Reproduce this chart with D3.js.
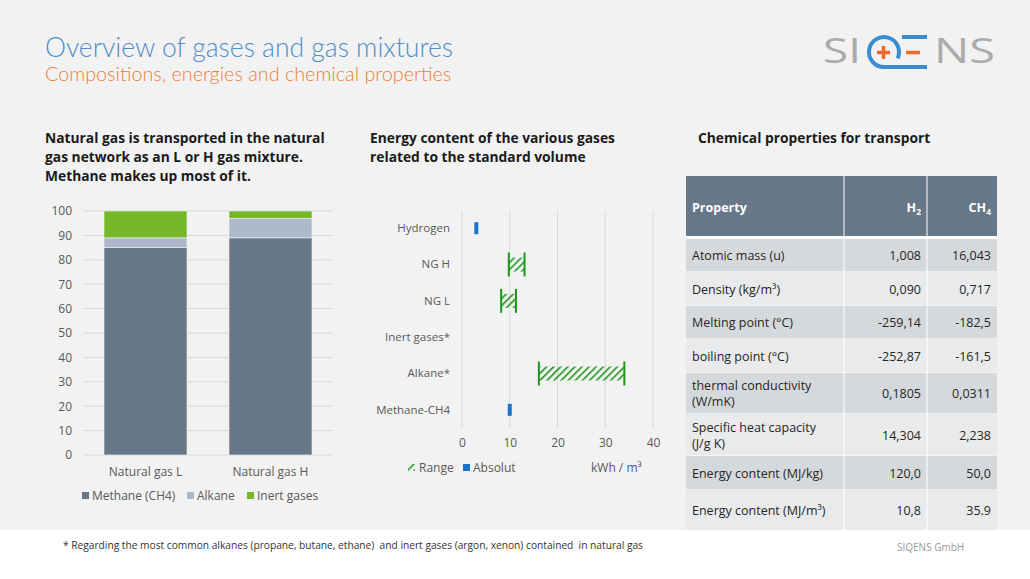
<!DOCTYPE html>
<html>
<head>
<meta charset="utf-8">
<script src="https://cdn.jsdelivr.net/npm/d3@7"></script>
<style>
  body { margin: 0; background: #fff; }
  svg text { font-family: "Open Sans", "Noto Sans", sans-serif; }
</style>
</head>
<body>
<div id="chart"></div>
<script>
// ---- data ----
const barCategories = ["Natural gas L", "Natural gas H"];
const barSeries = ["Methane (CH4)", "Alkane", "Inert gases"];
const methane = [85, 89];
const alkane = [4, 8];
const inert = [11, 3];

const energyGases = ["Hydrogen", "NG H", "NG L", "Inert gases*", "Alkane*", "Methane-CH4"];
const rangeMin = [null, 9.8, 8.2, null, 16.1, null];
const rangeMax = [null, 13.1, 11.3, null, 34.0, null];
const absolut = [3.0, null, null, null, null, 10.0];
const energyTicks = [0, 10, 20, 30, 40];

const tableHeader = ["Property", "H", "CH"];
const tableHeaderSub = ["", "2", "4"];
const properties = ["Atomic mass (u)", "Density (kg/m³)", "Melting point (°C)", "boiling point (°C)",
  "thermal conductivity\n(W/mK)", "Specific heat capacity\n(J/g K)", "Energy content (MJ/kg)", "Energy content (MJ/m³)"];
const h2Values = ["1,008", "0,090", "-259,14", "-252,87", "0,1805", "14,304", "120,0", "10,8"];
const ch4Values = ["16,043", "0,717", "-182,5", "-161,5", "0,0311", "2,238", "50,0", "35.9"];

// ---- colours ----
const slate = "#667788", alkaneCol = "#adb9ca", inertCol = "#77b82a";
const green = "#1d961d", blue = "#1874c8";
const textGray = "#595959", grid = "#d9d9d9";

const svg = d3.select("#chart").append("svg")
  .attr("width", 1030).attr("height", 579);

svg.append("rect").attr("width", 1030).attr("height", 579).attr("fill", "#fff");
svg.append("rect").attr("width", 1030).attr("height", 530).attr("fill", "#f2f2f2");

// ---- title ----
svg.append("text").attr("x", 45).attr("y", 57)
  .attr("font-size", 26.5).attr("font-weight", 300).attr("fill", "#4f8fc9")
  .style("font-family", "Lato, 'Open Sans', sans-serif")
  .text("Overview of gases and gas mixtures");
svg.append("text").attr("x", 45).attr("y", 81)
  .attr("font-size", 19.8).attr("font-weight", 300).attr("fill", "#ee7d3b")
  .style("font-family", "Lato, 'Open Sans', sans-serif")
  .text("Compositions, energies and chemical properties");

// ---- logo ----
const logo = svg.append("g");
logo.append("text").attr("x", 823).attr("y", 63).attr("font-size", 35).attr("fill", "#ababab")
  .attr("textLength", 38).attr("lengthAdjust", "spacingAndGlyphs").text("SI");
logo.append("text").attr("x", 934).attr("y", 63).attr("font-size", 35).attr("fill", "#ababab")
  .attr("textLength", 61).attr("lengthAdjust", "spacingAndGlyphs").text("NS");
const lb = "#3b8dd0", lo = "#f0692a";
logo.append("path")
  .attr("d", "M927,67 L884,67 A15,15 0 1 1 897.6,58.3")
  .attr("fill", "none").attr("stroke", lb).attr("stroke-width", 4);
logo.append("line").attr("x1", 902).attr("x2", 927).attr("y1", 37).attr("y2", 37)
  .attr("stroke", lb).attr("stroke-width", 4);
logo.append("path").attr("d", "M877,52.5 H890 M883.5,46 V59 M906,52.5 H920")
  .attr("stroke", lo).attr("stroke-width", 3.5).attr("fill", "none");

// ---- section headings ----
function heading(x, y, lines) {
  const t = svg.append("text").attr("x", x).attr("y", y)
    .attr("font-size", 13.8).attr("font-weight", 700).attr("fill", "#1a1a1a");
  lines.forEach((l, i) => t.append("tspan").attr("x", x).attr("dy", i ? 19 : 0).text(l));
}
heading(45, 143, ["Natural gas is transported in the natural", "gas network as an L or H gas mixture.", "Methane makes up most of it."]);
heading(370, 143, ["Energy content of the various gases", "related to the standard volume"]);
heading(698, 143, ["Chemical properties for transport"]);

// ---- stacked bar chart ----
const barG = svg.append("g");
const x = d3.scaleBand().domain(barCategories).range([83, 333]).paddingInner(0.336).paddingOuter(0.168);
const y = d3.scaleLinear().domain([0, 100]).range([455, 211]);

barG.selectAll(".grid").data(y.ticks(10)).join("line")
  .attr("x1", 83).attr("x2", 333).attr("y1", d => y(d)).attr("y2", d => y(d))
  .attr("stroke", grid).attr("stroke-width", 1);

const yAxis = d3.axisLeft(y).ticks(10).tickSize(0).tickPadding(11);
barG.append("g").attr("transform", "translate(83,0)").call(yAxis)
  .call(g => g.select(".domain").remove())
  .call(g => g.selectAll("text").attr("font-size", 12).attr("fill", textGray).style("font-family", "'Open Sans', sans-serif"));

const stackData = barCategories.map((c, i) => ({ cat: c, m: methane[i], a: alkane[i], n: inert[i] }));
const stack = d3.stack().keys(["m", "a", "n"])(stackData);
const barColors = [slate, alkaneCol, inertCol];
stack.forEach((s, si) => {
  barG.selectAll(".s" + si).data(s).join("rect")
    .attr("x", d => x(d.data.cat)).attr("width", x.bandwidth())
    .attr("y", d => y(d[1])).attr("height", d => y(d[0]) - y(d[1]))
    .attr("fill", barColors[si]).attr("stroke", "#f2f2f2").attr("stroke-width", 0.6);
});

const xAxis = d3.axisBottom(x).tickSize(0).tickPadding(12);
barG.append("g").attr("transform", "translate(0,455)").call(xAxis)
  .call(g => g.select(".domain").remove())
  .call(g => g.selectAll("text").attr("font-size", 12).attr("fill", textGray).style("font-family", "'Open Sans', sans-serif"));

const legX = [82, 187, 247];
barSeries.forEach((s, i) => {
  barG.append("rect").attr("x", legX[i]).attr("y", 492).attr("width", 7).attr("height", 7).attr("fill", barColors[i]);
  barG.append("text").attr("x", legX[i] + 10).attr("y", 500).attr("font-size", 12).attr("fill", textGray).text(s);
});

// ---- energy range chart ----
const defs = svg.append("defs");
defs.append("pattern").attr("id", "hatch").attr("patternUnits", "userSpaceOnUse")
  .attr("width", 5).attr("height", 5).attr("patternTransform", "rotate(45)")
  .append("line").attr("x1", 0).attr("y1", 0).attr("x2", 0).attr("y2", 5)
  .attr("stroke", green).attr("stroke-width", 3.2);

const eG = svg.append("g");
const ex = d3.scaleLinear().domain([0, 40]).range([462, 653]);
const ey = d3.scaleBand().domain(energyGases).range([210, 428]);

eG.selectAll(".vgrid").data(energyTicks).join("line")
  .attr("x1", d => ex(d)).attr("x2", d => ex(d)).attr("y1", 210).attr("y2", 428)
  .attr("stroke", grid);

eG.append("g").attr("transform", "translate(0,428)")
  .call(d3.axisBottom(ex).tickValues(energyTicks).tickSize(0).tickPadding(10))
  .call(g => g.select(".domain").remove())
  .call(g => g.selectAll("text").attr("font-size", 12).attr("fill", textGray).style("font-family", "'Open Sans', sans-serif"));

eG.append("g").attr("transform", "translate(462,0)")
  .call(d3.axisLeft(ey).tickSize(0).tickPadding(12))
  .call(g => g.select(".domain").remove())
  .call(g => g.selectAll("text").attr("font-size", 11.5).attr("fill", textGray).style("font-family", "'Open Sans', sans-serif"));

const ranges = energyGases.map((g, i) => ({ g, lo: rangeMin[i], hi: rangeMax[i] })).filter(d => d.lo != null);
eG.selectAll(".rng").data(ranges).join("rect")
  .attr("x", d => ex(d.lo)).attr("width", d => ex(d.hi) - ex(d.lo))
  .attr("y", d => ey(d.g) + ey.bandwidth() / 2 - 7).attr("height", 14)
  .attr("fill", "url(#hatch)");
ranges.forEach(d => {
  [d.lo, d.hi].forEach(v => {
    eG.append("line").attr("x1", ex(v)).attr("x2", ex(v))
      .attr("y1", ey(d.g) + ey.bandwidth() / 2 - 12).attr("y2", ey(d.g) + ey.bandwidth() / 2 + 12)
      .attr("stroke", green).attr("stroke-width", 2);
  });
});

const abs = energyGases.map((g, i) => ({ g, v: absolut[i] })).filter(d => d.v != null);
eG.selectAll(".abs").data(abs).join("rect")
  .attr("x", d => ex(d.v) - 2).attr("width", 4)
  .attr("y", d => ey(d.g) + ey.bandwidth() / 2 - 6).attr("height", 12)
  .attr("fill", blue);

// legend
eG.append("rect").attr("x", 408).attr("y", 464).attr("width", 7).attr("height", 7).attr("fill", "url(#hatch)");
eG.append("text").attr("x", 419).attr("y", 472).attr("font-size", 12).attr("fill", textGray).text("Range");
eG.append("rect").attr("x", 463).attr("y", 464).attr("width", 7).attr("height", 7).attr("fill", blue);
eG.append("text").attr("x", 473).attr("y", 472).attr("font-size", 12).attr("fill", textGray).text("Absolut");
eG.append("text").attr("x", 591).attr("y", 472).attr("font-size", 12).attr("fill", textGray).text("kWh / m³");

// ---- property table ----
const tG = svg.append("g");
const colX = [686, 844, 927, 997];
const headTop = 176, headBot = 236;
const rowH = [33, 34, 33, 34, 41, 42, 34, 40];
const cellPad = 6;

tG.append("rect").attr("x", colX[0]).attr("y", headTop).attr("width", colX[3] - colX[0]).attr("height", headBot - headTop).attr("fill", slate);
tableHeader.forEach((h, i) => {
  const t = tG.append("text").attr("y", 212).attr("font-size", 12.5).attr("font-weight", 700).attr("fill", "#fff");
  if (i === 0) t.attr("x", colX[0] + cellPad);
  else t.attr("x", colX[i + 1] - cellPad).attr("text-anchor", "end");
  t.append("tspan").text(h);
  if (tableHeaderSub[i]) t.append("tspan").attr("font-size", 8.5).attr("dy", 3).text(tableHeaderSub[i]);
});

let yy = headBot + 3;
properties.forEach((p, i) => {
  const h = rowH[i];
  tG.append("rect").attr("x", colX[0]).attr("y", yy).attr("width", colX[3] - colX[0]).attr("height", h)
    .attr("fill", i % 2 === 0 ? "#d6d9dc" : "#e9eaeb");
  const lines = p.split("\n");
  const mid = yy + h / 2;
  const t = tG.append("text").attr("font-size", 12.5).attr("fill", "#262626");
  lines.forEach((l, li) => t.append("tspan").attr("x", colX[0] + cellPad)
    .attr("y", mid + 4.5 + (li - (lines.length - 1) / 2) * 16).text(l));
  [h2Values[i], ch4Values[i]].forEach((v, vi) => {
    tG.append("text").attr("x", colX[vi + 2] - cellPad).attr("y", mid + 4.5)
      .attr("text-anchor", "end").attr("font-size", 12.5).attr("fill", "#262626").text(v);
  });
  yy += h;
  if (i < properties.length - 1) {
    tG.append("line").attr("x1", colX[0]).attr("x2", colX[3]).attr("y1", yy).attr("y2", yy).attr("stroke", "#fff").attr("stroke-width", 1);
  }
});
[colX[1], colX[2]].forEach(cx => {
  tG.append("line").attr("x1", cx).attr("x2", cx).attr("y1", headTop).attr("y2", yy).attr("stroke", "#fff").attr("stroke-width", 1);
});
tG.append("line").attr("x1", colX[0]).attr("x2", colX[3]).attr("y1", headBot + 1.5).attr("y2", headBot + 1.5).attr("stroke", "#fff").attr("stroke-width", 3);

// ---- footer ----
svg.append("text").attr("x", 63).attr("y", 549).attr("font-size", 10.2).attr("fill", "#333")
  .text("* Regarding the most common alkanes (propane, butane, ethane)  and inert gases (argon, xenon) contained  in natural gas")
  .style("white-space", "pre");
svg.append("text").attr("x", 897).attr("y", 551).attr("font-size", 10).attr("fill", "#999").text("SIQENS GmbH");
</script>
</body>
</html>
